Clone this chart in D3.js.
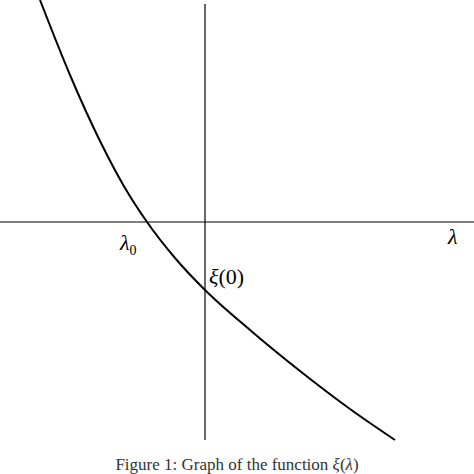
<!DOCTYPE html>
<html><head><meta charset="utf-8">
<script src="https://cdn.jsdelivr.net/npm/d3@7"></script>
<style>body{margin:0;background:#fff}</style>
</head><body>
<svg id="chart" width="474" height="474"></svg>
<script>
// curve samples (lambda, xi)
const lambdaVals = [-3.3, -2.7, -2.1, -1.6, -1.16, -0.6, 0, 0.9, 1.9, 2.9, 3.8];
const xiVals = [4.44, 2.94, 1.62, 0.68, 0, -0.72, -1.36, -2.16, -2.98, -3.74, -4.36];
const caption = "Figure 1: Graph of the function ";

const svg = d3.select("#chart");
const x = d3.scaleLinear().domain([-4.1, 5.38]).range([0, 474]);
const y = d3.scaleLinear().domain([4.44, -4.36]).range([0, 440]);

// axes
svg.append("line").attr("x1", 0).attr("x2", 474).attr("y1", y(0)).attr("y2", y(0))
  .attr("stroke", "#000").attr("stroke-width", 1.2);
svg.append("line").attr("x1", x(0)).attr("x2", x(0)).attr("y1", 4).attr("y2", 440)
  .attr("stroke", "#000").attr("stroke-width", 1.2);

const pts = lambdaVals.map((l, i) => [l, xiVals[i]]);
const line = d3.line().x(d => x(d[0])).y(d => y(d[1])).curve(d3.curveMonotoneX);
svg.append("path").attr("d", line(pts)).attr("fill", "none")
  .attr("stroke", "#000").attr("stroke-width", 2);

const serif = "'Liberation Serif', 'DejaVu Serif', serif";
const lam0 = svg.append("text").attr("x", x(-1.7)).attr("y", y(0) + 28)
  .attr("font-family", serif).attr("font-size", 22).attr("font-style", "italic").text("λ");
lam0.append("tspan").attr("font-size", 14).attr("font-style", "normal").attr("dy", 5).text("0");
svg.append("text").attr("x", x(0) + 4).attr("y", y(-1.32) - 4)
  .attr("font-family", serif).attr("font-size", 22)
  .html("<tspan font-style='italic'>ξ</tspan>(0)");
svg.append("text").attr("x", 448).attr("y", y(0) + 22)
  .attr("font-family", serif).attr("font-size", 22).attr("font-style", "italic").text("λ");

svg.append("text").attr("x", 237).attr("y", 470).attr("text-anchor", "middle")
  .attr("font-family", serif).attr("font-size", 17).attr("fill", "#333")
  .html(caption + "<tspan font-style='italic'>ξ</tspan>(<tspan font-style='italic'>λ</tspan>)");
</script>
</body></html>
